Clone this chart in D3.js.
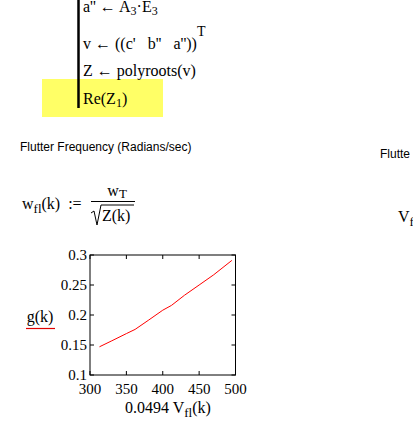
<!DOCTYPE html>
<html><head><meta charset="utf-8">
<script src="https://cdn.jsdelivr.net/npm/d3@7"></script>
<style>body{margin:0;background:#fff}svg{display:block}text{white-space:pre}</style></head>
<body><svg id="c" width="413" height="438"></svg>
<script>
const xVals = [313, 330, 350, 362, 380, 400, 412, 430, 450, 470, 495];
const gVals = [0.147, 0.157, 0.169, 0.176, 0.191, 0.208, 0.216, 0.233, 0.250, 0.267, 0.291];
const xTicks = [300, 350, 400, 450, 500];
const yTicks = [0.1, 0.15, 0.2, 0.25, 0.3];

const svg = d3.select("#c");
const serif = "Liberation Serif, Times New Roman, serif";
const sans = "Liberation Sans, Arial, sans-serif";

svg.append("rect").attr("x",42).attr("y",79).attr("width",121).attr("height",38).attr("fill","#ffff66");
svg.append("line").attr("x1",78.5).attr("x2",78.5).attr("y1",0).attr("y2",108).attr("stroke","#000").attr("stroke-width",2.5);
function t(x,y,s,size,font,anchor){return svg.append("text").attr("x",x).attr("y",y).attr("font-family",font||serif).attr("font-size",size||16).attr("text-anchor",anchor||"start").text(s);}
const l1 = svg.append("text").attr("x",83).attr("y",12).attr("font-family",serif).attr("font-size",16);
l1.append("tspan").text("a'' ← A");l1.append("tspan").attr("font-size",12).attr("dy",3).text("3");
l1.append("tspan").attr("dy",-3).text("·E");l1.append("tspan").attr("font-size",12).attr("dy",3).text("3");
const l2 = svg.append("text").attr("x",83).attr("y",49).attr("font-family",serif).attr("font-size",16);
l2.append("tspan").text("v ← ((c'   b''   a''))");
l2.append("tspan").attr("font-size",14).attr("dy",-13).text("T");
t(83,76,"Z ← polyroots(v)");
const l4 = svg.append("text").attr("x",83).attr("y",104).attr("font-family",serif).attr("font-size",16);
l4.append("tspan").text("Re(Z");l4.append("tspan").attr("font-size",12).attr("dy",3).text("1");
l4.append("tspan").attr("dy",-3).text(")");

t(20,151,"Flutter Frequency (Radians/sec)",12,sans);
t(380,158,"Flutte",12,sans);
const w = svg.append("text").attr("x",22).attr("y",209).attr("font-family",serif).attr("font-size",16);
w.append("tspan").text("w");w.append("tspan").attr("font-size",13).attr("dy",4).text("fl");
w.append("tspan").attr("dy",-4).text("(k)  :=");
t(113,196,"w",16,serif,"middle");t(119,198,"T",13);
svg.append("line").attr("x1",91).attr("x2",135).attr("y1",201.5).attr("y2",201.5).attr("stroke","#000");
svg.append("path").attr("d","M91,213 L94,211 L97,225 L101,205 L134,205").attr("fill","none").attr("stroke","#000");
t(102,221,"Z(k)",16);
const vf = svg.append("text").attr("x",398).attr("y",222).attr("font-family",serif).attr("font-size",16);
vf.append("tspan").text("V");vf.append("tspan").attr("font-size",13).attr("dy",4).text("f");

const x0=90,x1=235.5,y0=255,y1=375;
const x = d3.scaleLinear().domain([300,500]).range([x0,x1]);
const y = d3.scaleLinear().domain([0.1,0.3]).range([y1,y0]);
svg.append("rect").attr("x",x0).attr("y",y0).attr("width",x1-x0).attr("height",y1-y0).attr("fill","none").attr("stroke","#000");
xTicks.forEach(v=>{
  svg.append("line").attr("x1",x(v)).attr("x2",x(v)).attr("y1",y1).attr("y2",y1-4).attr("stroke","#000");
  svg.append("line").attr("x1",x(v)).attr("x2",x(v)).attr("y1",y0).attr("y2",y0+4).attr("stroke","#000");
  t(x(v),394,v,15,serif,"middle");
});
yTicks.forEach(v=>{
  svg.append("line").attr("x1",x0).attr("x2",x0+4).attr("y1",y(v)).attr("y2",y(v)).attr("stroke","#000");
  svg.append("line").attr("x1",x1).attr("x2",x1-4).attr("y1",y(v)).attr("y2",y(v)).attr("stroke","#000");
  t(x0-3,y(v)+5,String(v),15,serif,"end");
});
svg.append("path").datum(xVals.map((v,i)=>[v,gVals[i]]))
  .attr("d",d3.line().x(d=>x(d[0])).y(d=>y(d[1])))
  .attr("fill","none").attr("stroke","#ff0000").attr("stroke-width",1);
t(40,322,"g(k)",16,serif,"middle");
svg.append("line").attr("x1",26).attr("x2",55).attr("y1",328.5).attr("y2",328.5).attr("stroke","#e00000").attr("stroke-width",1.2);
const xl = svg.append("text").attr("x",125).attr("y",413).attr("font-family",serif).attr("font-size",16);
xl.append("tspan").text("0.0494 V");xl.append("tspan").attr("font-size",13).attr("dy",4).text("fl");
xl.append("tspan").attr("dy",-4).text("(k)");
</script></body></html>
